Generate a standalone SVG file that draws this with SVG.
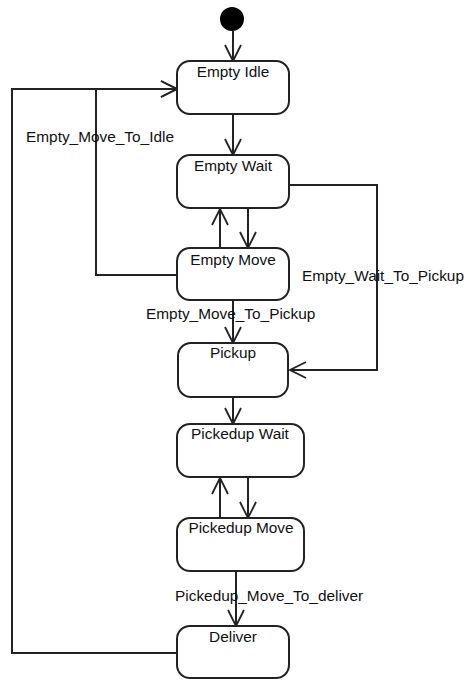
<svg xmlns="http://www.w3.org/2000/svg" width="474" height="686" viewBox="0 0 474 686">
<style>
.st rect{fill:#fff;stroke:#222;stroke-width:2}
.st text,.lbl{font-family:"Liberation Sans",Arial,sans-serif;font-size:15.4px;fill:#111}
.st text{text-anchor:middle}
.cn path{fill:none;stroke:#222;stroke-width:2}
</style>
<defs>
<marker id="arr" markerUnits="userSpaceOnUse" markerWidth="20" markerHeight="20" viewBox="-17 -10 20 20" refX="0" refY="0" orient="auto">
<path d="M-16,-8 L0,0 L-16,8" fill="none" stroke="#222" stroke-width="1.8"/>
</marker>
</defs>
<rect width="474" height="686" fill="#fff"/>
<g id="connectors" class="cn">
<path d="M233 31 L233 61" marker-end="url(#arr)"/>
<path d="M233 114 L233 155" marker-end="url(#arr)"/>
<path d="M248 208 L248 248" marker-end="url(#arr)"/>
<path d="M220 248 L220 209" marker-end="url(#arr)"/>
<path d="M177 275 L96 275 L96 89 L177 89" marker-end="url(#arr)"/>
<path d="M289 185 L377 185 L377 370 L290 370" marker-end="url(#arr)"/>
<path d="M233 300 L233 343" marker-end="url(#arr)"/>
<path d="M233 397 L233 424" marker-end="url(#arr)"/>
<path d="M248 477 L248 518" marker-end="url(#arr)"/>
<path d="M220 518 L220 478" marker-end="url(#arr)"/>
<path d="M236 571 L236 626" marker-end="url(#arr)"/>
<path d="M177 653 L12 653 L12 89 L177 89" marker-end="url(#arr)"/>
<text class="lbl" x="26" y="142">Empty_Move_To_Idle</text>
<text class="lbl" x="302" y="281">Empty_Wait_To_Pickup</text>
<text class="lbl" x="146" y="319">Empty_Move_To_Pickup</text>
<text class="lbl" x="175" y="601">Pickedup_Move_To_deliver</text>
</g>
<g id="initial"><circle cx="232" cy="19" r="12" fill="#000"/></g>
<g id="empty_idle" class="st"><rect x="177" y="61" width="112" height="53" rx="13"/><text x="233" y="77">Empty Idle</text></g>
<g id="empty_wait" class="st"><rect x="177" y="155" width="112" height="53" rx="13"/><text x="233" y="171">Empty Wait</text></g>
<g id="empty_move" class="st"><rect x="177" y="248" width="112" height="52" rx="13"/><text x="233" y="265">Empty Move</text></g>
<g id="pickup" class="st"><rect x="178" y="343" width="110" height="54" rx="13"/><text x="233" y="358">Pickup</text></g>
<g id="pickedup_wait" class="st"><rect x="177" y="424" width="127" height="53" rx="13"/><text x="240" y="439">Pickedup Wait</text></g>
<g id="pickedup_move" class="st"><rect x="177" y="518" width="127" height="53" rx="13"/><text x="241" y="533">Pickedup Move</text></g>
<g id="deliver" class="st"><rect x="177" y="626" width="112" height="52" rx="13"/><text x="233" y="642">Deliver</text></g>
</svg>
